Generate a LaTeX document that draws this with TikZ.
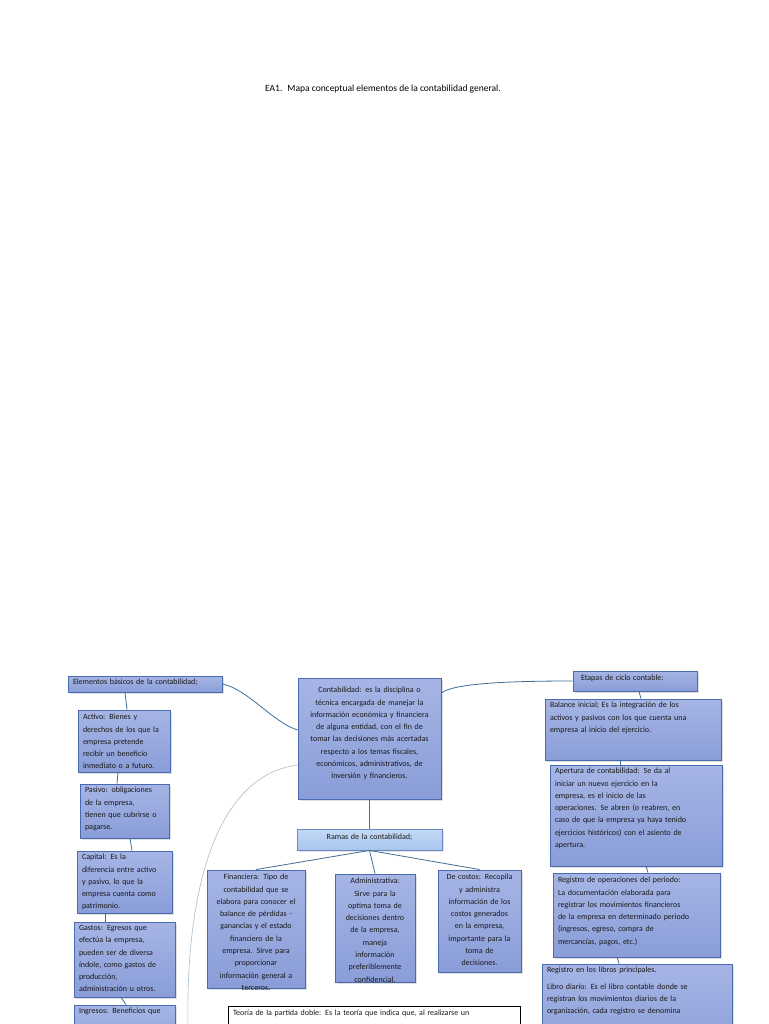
\documentclass[tikz,border=0pt]{standalone}
\usepackage{fontspec}
\setmainfont{Carlito}
\usetikzlibrary{shadows}
\definecolor{bfill}{HTML}{8A9DD8}
\definecolor{bfilltop}{HTML}{A6B5E5}
\definecolor{rfill}{HTML}{A8C6EE}
\definecolor{rtop}{HTML}{C4D8F4}
\definecolor{bdraw}{HTML}{4A6BB0}
\definecolor{lineblue}{HTML}{3E6E96}
\tikzset{
  x=1pt,y=-1pt,
  bx/.style={draw=bdraw,line width=0.9pt,top color=bfilltop,bottom color=bfill,drop shadow={opacity=0.25,shadow xshift=1.5pt,shadow yshift=-1.5pt},inner sep=0pt},
  rbx/.style={draw=bdraw!80,line width=0.8pt,top color=rtop,bottom color=rfill,drop shadow={opacity=0.2,shadow xshift=1.5pt,shadow yshift=-1.5pt},inner sep=0pt},
  wbx/.style={draw=black,line width=0.9pt,fill=white,inner sep=0pt},
  txt/.style={font=\fontsize{8}{12.3}\selectfont,text=black!90,inner sep=0pt},
  conn/.style={draw=lineblue,line width=0.8pt},
}
% name, x1, y1, x2, y2, style, align, toppad, text
\newcommand{\bxnode}[9]{%
  \pgfmathsetmacro\bw{#4-#2}\pgfmathsetmacro\bh{#5-#3}%
  \pgfmathsetmacro\tw{#4-#2-10}%
  \node[#6,minimum width=\bw pt,minimum height=\bh pt] (#1) at ({(#2+#4)/2},{(#3+#5)/2}) {};
  \node[txt,align=#7,text width=\tw pt,anchor=north] (#1t) at ({(#2+#4)/2},{#3+#8}) {#9};
}
\begin{document}
\begin{tikzpicture}
\useasboundingbox (0,0) rectangle (768,1024);
\fill[white] (0,0) rectangle (768,1024);
\begin{scope}
\clip (0,0) rectangle (768,1024);
\node[font=\fontsize{9.5}{12}\selectfont] (title) at (383,89) {EA1. \ Mapa conceptual elementos de la contabilidad general.};

% ---- boxes
\bxnode{elem}{68}{676}{222}{692}{bx}{left}{3}{Elementos básicos de la contabilidad;}
\bxnode{act}{78}{710}{170}{772}{bx}{left}{4}{Activo: Bienes y\\derechos de los que la\\empresa pretende\\recibir un beneficio\\inmediato o a futuro.}
\bxnode{pas}{80}{784}{169}{838}{bx}{left}{3}{Pasivo: obligaciones\\de la empresa,\\tienen que cubrirse o\\pagarse.}
\bxnode{cap}{77}{851}{172}{913}{bx}{left}{3}{Capital: Es la\\diferencia entre activo\\y pasivo, lo que la\\empresa cuenta como\\patrimonio.}
\bxnode{gas}{74}{922}{175}{997}{bx}{left}{3}{Gastos: Egresos que\\efectúa la empresa,\\pueden ser de diversa\\índole, como gastos de\\producción,\\administración u otros.}
\bxnode{ing}{74}{1005}{175}{1060}{bx}{left}{3}{Ingresos: Beneficios que\\ }

\bxnode{cont}{298}{678}{441}{799}{bx}{center}{9}{Contabilidad: es la disciplina o\\técnica encargada de manejar la\\información económica y financiera\\de alguna entidad, con el fin de\\tomar las decisiones más acertadas\\respecto a los temas fiscales,\\económicos, administrativos, de\\inversión y financieros.}
\bxnode{ramas}{297}{829}{442}{850}{rbx}{center}{5}{Ramas de la contabilidad;}
\bxnode{fin}{207}{870}{305}{988}{bx}{center}{4}{Financiera: Tipo de\\contabilidad que se\\elabora para conocer el\\balance de pérdidas -\\ganancias y el estado\\financiero de la\\empresa. Sirve para\\proporcionar\\información general a\\terceros.}
\bxnode{adm}{335}{874}{415}{982}{bx}{center}{4}{Administrativa:\\Sirve para la\\optima toma de\\decisiones dentro\\de la empresa,\\maneja\\información\\preferiblemente\\confidencial.}
\bxnode{cos}{438}{870}{521}{972}{bx}{center}{4}{De costos: Recopila\\y administra\\información de los\\costos generados\\en la empresa,\\importante para la\\toma de\\decisiones.}
\bxnode{teo}{228}{1006}{520}{1060}{wbx}{left}{4}{Teoría de la partida doble: Es la teoría que indica que, al realizarse un\\ }

\bxnode{etapas}{573}{671}{697}{691}{bx}{left}{4}{\hspace*{3pt}Etapas de ciclo contable:}
\bxnode{bal}{545}{699}{721}{760}{bx}{left}{3}{Balance inicial; Es la integración de los\\activos y pasivos con los que cuenta una\\empresa al inicio del ejercicio.}
\bxnode{ape}{550}{765}{722}{866}{bx}{left}{3}{Apertura de contabilidad: Se da al\\iniciar un nuevo ejercicio en la\\empresa, es el inicio de las\\operaciones. Se abren (o reabren, en\\caso de que la empresa ya haya tenido\\ejercicios históricos) con el asiento de\\apertura.}
\bxnode{reg}{553}{873}{720}{957}{bx}{left}{4}{Registro de operaciones del periodo:\\La documentación elaborada para\\registrar los movimientos financieros\\de la empresa en determinado periodo\\(ingresos, egreso, compra de\\mercancías, pagos, etc.)}
\bxnode{lib}{542}{964}{732}{1060}{bx}{left}{3}{Registro en los libros principales.\\[4pt]Libro diario: Es el libro contable donde se\\registran los movimientos diarios de la\\organización, cada registro se denomina}

% ---- connectors
\draw[conn] (elem.east) .. controls +(25,5) and +(-25,-8) .. (cont.west |- 0,730);
\draw[conn] (cont.east |- 0,693) .. controls +(12,-10) and +(-60,0) .. (etapas.west);
\draw[conn] (cont.south) -- (ramas.north);
\draw[conn] (ramas.south) -- (fin.north);
\draw[conn] (ramas.south) -- (adm.north);
\draw[conn] (ramas.south) -- (cos.north);
\draw[draw=lineblue!45,line width=0.6pt] (cont.west |- 0,765) .. controls (220,775) and (185,880) .. (188,1030);
\draw[conn] (elem.south -| 125,0) -- (act.north -| 127,0);
\draw[conn] (act.south -| 118,0) -- (pas.north -| 117,0);
\draw[conn] (pas.south -| 130,0) -- (cap.north -| 132,0);
\draw[conn] (cap.south -| 105,0) -- (gas.north -| 105,0);
\draw[conn] (gas.south -| 121,0) -- (ing.north -| 126,0);
\draw[conn] (etapas.south -| 639,0) -- (bal.north -| 641,0);
\draw[conn] (bal.south -| 620,0) -- (ape.north -| 620,0);
\draw[conn] (ape.south -| 646,0) -- (reg.north -| 648,0);
\draw[conn] (reg.south -| 617,0) -- (lib.north -| 619,0);
\end{scope}
\end{tikzpicture}
\end{document}
